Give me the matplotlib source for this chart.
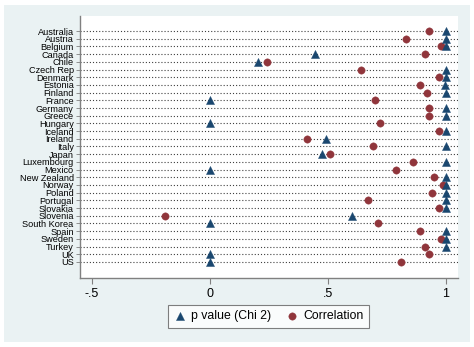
import matplotlib
matplotlib.use("Agg")
import matplotlib.pyplot as plt
from matplotlib.patches import Rectangle

countries = ["Australia", "Austria", "Belgium", "Canada", "Chile", "Czech Rep",
             "Denmark", "Estonia", "Finland", "France", "Germany", "Greece",
             "Hungary", "Iceland", "Ireland", "Italy", "Japan", "Luxembourg",
             "Mexico", "New Zealand", "Norway", "Poland", "Portugal", "Slovakia",
             "Slovenia", "South Korea", "Spain", "Sweden", "Turkey", "UK", "US"]

p_value = [1.0, 1.0, 1.0, 0.446, 0.205, 1.0,
           1.0, 0.995, 1.0, 0.0, 1.0, 1.0,
           0.0, 1.0, 0.493, 1.0, 0.473, 1.0,
           0.0, 1.0, 1.0, 1.0, 1.0, 1.0,
           0.603, 0.0, 1.0, 1.0, 1.0, 0.0, 0.0]

correlation = [0.929, 0.830, 0.977, 0.911, 0.240, 0.640,
               0.969, 0.890, 0.919, 0.699, 0.929, 0.929,
               0.720, 0.969, 0.410, 0.690, 0.510, 0.859,
               0.790, 0.951, 0.989, 0.939, 0.671, 0.970,
               -0.190, 0.710, 0.890, 0.979, 0.911, 0.929, 0.809]

xticks = [-0.5, 0, 0.5, 1]
xticklabels = ["-.5", "0", ".5", "1"]

navy = "#1a476f"
maroon = "#90353b"
bg = "#eaf2f3"

plt.rcParams['font.family'] = ['Liberation Sans', 'DejaVu Sans']

W, H = 474, 347
fig = plt.figure(figsize=(W / 100, H / 100), dpi=100)
fig.patch.set_facecolor("white")
fig.patches.append(Rectangle((4 / W, 1 - 342 / H), (470 - 4) / W, (342 - 5) / H,
                             transform=fig.transFigure, facecolor=bg,
                             edgecolor="none", zorder=-10))

ax = fig.add_axes([80 / W, 1 - 278 / H, (458 - 80) / W, (278 - 16) / H])
ax.set_zorder(1)
ax.set_facecolor("white")

ypos = list(range(len(countries)))
for y in ypos:
    ax.axhline(y, color="#404040", linestyle=(0, (1, 1.8)), linewidth=0.8, zorder=1)

h2 = ax.scatter(correlation, ypos, marker="o", s=28, color=maroon,
                edgecolors=maroon, linewidths=0.3, zorder=3, label="Correlation")
h1 = ax.scatter(p_value, ypos, marker="^", s=34, color=navy,
                edgecolors=navy, linewidths=0.3, zorder=4, label="p value (Chi 2)")

ax.set_xlim(-0.551, 1.051)
ax.set_ylim(len(countries) - 1 + 2.08, -1.95)
ax.set_yticks(ypos)
ax.set_yticklabels(countries, fontsize=6.6)
ax.set_xticks(xticks)
ax.set_xticklabels(xticklabels, fontsize=9)

for s in ["top", "right"]:
    ax.spines[s].set_visible(False)
for s in ["left", "bottom"]:
    ax.spines[s].set_color("#808080")
    ax.spines[s].set_linewidth(1.0)

ax.tick_params(axis="y", length=3, width=0.6, color="#808080", pad=1.5)
ax.tick_params(axis="x", length=4, width=0.8, color="#808080", pad=3)

leg = fig.legend(handles=[h1, h2], labels=["p value (Chi 2)", "Correlation"],
                 loc="center", bbox_to_anchor=(268.5 / W, 1 - 316 / H),
                 ncol=2, fontsize=8.8, frameon=True, fancybox=False,
                 handletextpad=0.4, columnspacing=1.2, borderpad=0.45,
                 handlelength=1.0, scatterpoints=1)
leg.get_frame().set_edgecolor("#606060")
leg.get_frame().set_linewidth(0.8)
leg.get_frame().set_facecolor("white")

fig.savefig("out.png", dpi=100)
